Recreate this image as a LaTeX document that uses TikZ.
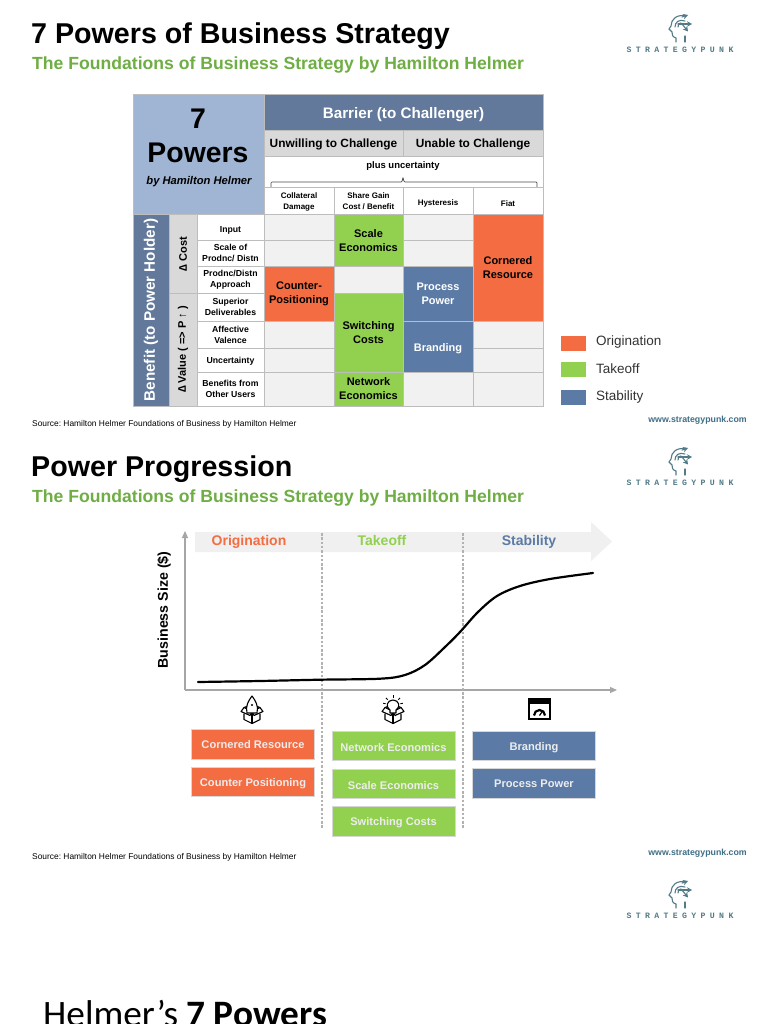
\documentclass[tikz,border=0pt]{standalone}
\usepackage{fontspec}
\setmainfont{Liberation Sans}
\newfontfamily\logofont[LetterSpace=53]{Liberation Mono}
\newfontfamily\carlitofont{Carlito}
\usetikzlibrary{arrows.meta}
\definecolor{orig}{HTML}{F46C42}
\definecolor{take}{HTML}{92D050}
\definecolor{stab}{HTML}{5B7BA6}
\definecolor{headblue}{HTML}{62799B}
\definecolor{paleblue}{HTML}{A0B4D3}
\definecolor{gridc}{HTML}{BDBDBD}
\definecolor{cellc}{HTML}{F1F1F1}
\definecolor{greyc}{HTML}{D9D9D9}
\definecolor{titlegreen}{HTML}{6FAE44}
\definecolor{logoc}{HTML}{527B87}
\definecolor{linkc}{HTML}{3F6E86}
\tikzset{
  nudge/.style={execute at begin node={\rule{0pt}{#1}}},
  cellbox/.style={draw=gridc,line width=1pt,inner sep=0pt,outer sep=0pt,anchor=center,align=center,font=\bfseries\fontsize{8.7}{11}\selectfont},
  headcell/.style={font=\bfseries\fontsize{8}{11}\selectfont,nudge=8pt},
  bigcell/.style={font=\bfseries\fontsize{11}{14}\selectfont,nudge=10.5pt},
  titletext/.style={anchor=west,inner sep=0pt,font=\bfseries\fontsize{28.65}{30}\selectfont},
  subtitletext/.style={anchor=west,inner sep=0pt,text=titlegreen,font=\bfseries\fontsize{17.6}{20}\selectfont},
  sourcetext/.style={anchor=west,inner sep=0pt,font=\fontsize{8.4}{10}\selectfont},
  webtext/.style={anchor=east,inner sep=0pt,text=linkc,font=\bfseries\fontsize{8.8}{10}\selectfont},
  legendbox/.style={minimum width=25pt,minimum height=15pt,inner sep=0pt,anchor=center},
  legendtext/.style={anchor=west,inner sep=0pt,text=black!80,font=\fontsize{13.5}{16}\selectfont},
  powerbox/.style={draw=gridc!60,line width=0.7pt,minimum width=123pt,minimum height=29.5pt,inner sep=0pt,text=white!93!black,font=\bfseries\fontsize{11.1}{12}\selectfont},
  stagetext/.style={anchor=base,inner sep=0pt,font=\bfseries\fontsize{14}{16}\selectfont},
  dashline/.style={draw=black!30,line width=1.2pt,dash pattern=on 2.5pt off 1.8pt},
  axisline/.style={draw=black!35,line width=1.2pt,-{Triangle[length=7pt,width=6pt]}},
  iconline/.style={draw=black,line width=1.1pt,line join=round},
}
% cell macro: [options], name, x1,y1,x2,y2, fill, text
\newcommand{\cell}[8][]{\node[cellbox,#1,fill=#7,minimum width=#5pt-#3pt,minimum height=#6pt-#4pt] (#2) at ({(#3+#5)/2},{(#4+#6)/2}) {#8};}
\newcommand{\logo}[3]{% name, x centre, y top of head
 \begin{scope}[shift={(#2,#3)},draw=logoc,line width=1.1pt,line cap=round]
   \draw (-4,27) -- (-4,23) .. controls (-8,22) and (-8,19) .. (-8,17) -- (-11,14) -- (-9,11) .. controls (-9,4) and (-3,-1) .. (6,1);
   \draw (-5,12) .. controls (-5,7) and (-1,4) .. (5,6);
   \draw (-2,12) .. controls (-2,9) and (-1,8) .. (1,8);
   \draw (5,21) -- (5,27);
   \draw[-{Stealth[length=5pt,width=5.5pt]}] (2,2) -- (8,0);
   \draw[-{Stealth[length=5pt,width=5.5pt]}] (-2,9) -- (12,9);
   \draw[-{Stealth[length=5pt,width=5.5pt]}] (2,9) -- (8,16.5);
   \node[inner sep=0pt,text=logoc,font=\logofont\bfseries\fontsize{8.2}{10}\selectfont] (#1) at (0,35) {STRATEGYPUNK};
 \end{scope}}
\newcommand{\boxicon}[2]{% open box, centre x, top y
 \begin{scope}[shift={(#1,#2)},iconline]
   \draw (-8,4) -- (0,1) -- (8,4) -- (0,8) -- cycle;
   \draw (-8,4) -- (-11,8) -- (-2,12) -- (0,8) -- (2,12) -- (11,8) -- (8,4);
   \draw (-8,10) -- (-8,16) -- (0,20) -- (8,16) -- (8,10);
   \draw (0,8) -- (0,20);
 \end{scope}}
\begin{document}
\frenchspacing
\begin{tikzpicture}[x=1pt,y=-1pt]
\useasboundingbox (0,0) rectangle (768,1024);
\fill[white] (0,0) rectangle (768,1024);
% ---- slide 1 ----
\node[titletext] (t1) at (31,36) {7 Powers of Business Strategy};
\node[subtitletext] (s1) at (32,65) {The Foundations of Business Strategy by Hamilton Helmer};
\logo{logo1}{680}{15}
% table
\cell{corner}{133}{95}{264}{215}{paleblue}{}
\node[inner sep=0pt,font=\bfseries\fontsize{28.4}{30}\selectfont] (seven) at (198,119) {7};
\node[inner sep=0pt,font=\bfseries\fontsize{28.4}{30}\selectfont] (powers) at (198,153) {Powers};
\node[inner sep=0pt,font=\bfseries\itshape\fontsize{11.2}{13}\selectfont] (byhh) at (199,181.5) {by Hamilton Helmer};
\cell[nudge=14pt]{barrier}{264}{95}{543}{131}{headblue}{\color{white}\fontsize{15.2}{17}\selectfont Barrier (to Challenger)}
\cell{unw}{264}{131}{403}{157}{greyc}{\fontsize{11.9}{14}\selectfont Unwilling to Challenge}
\cell{una}{403}{131}{543}{157}{greyc}{\fontsize{11.9}{14}\selectfont Unable to Challenge}
\cell{plus}{264}{157}{543}{188}{white}{}
\node[inner sep=0pt,font=\bfseries\fontsize{9.5}{11}\selectfont] (plustext) at (403,166.5) {plus uncertainty};
\draw[black!70,line width=0.7pt,rounded corners=1pt] (271,187.5) -- (271,182) -- (402,182) -- (403,177) -- (404,182) -- (537,182) -- (537,187.5);
\cell[headcell]{h1}{264}{188}{334}{215}{white}{Collateral\\Damage}
\cell[headcell]{h2}{334}{188}{403}{215}{white}{Share Gain\\Cost / Benefit}
\cell[headcell,nudge=10pt]{h3}{403}{188}{473}{215}{white}{Hysteresis}
\cell[headcell,nudge=10pt]{h4}{473}{188}{543}{215}{white}{Fiat}
% side
\cell{ben}{133}{215}{169}{406}{headblue}{}
\node[rotate=90,inner sep=0pt,text=white,font=\bfseries\fontsize{15.2}{17}\selectfont] (bentext) at (151,310) {Benefit (to Power Holder)};
\cell{cost}{169}{215}{197}{293}{greyc}{}
\node[rotate=90,inner sep=0pt,font=\bfseries\fontsize{11}{13}\selectfont] (costtext) at (183,254) {∆ Cost};
\cell{val}{169}{293}{197}{406}{greyc}{}
\node[rotate=90,inner sep=0pt,font=\bfseries\fontsize{11}{13}\selectfont] (valtext) at (183,349.5) {∆ Value ( => P ↑ )};
% row labels
\cell[nudge=11pt]{r1}{197}{215}{264}{240}{white}{Input}
\cell{r2}{197}{240}{264}{266}{white}{Scale of\\Prodnc/ Distn}
\cell[nudge=8pt]{r3}{197}{266}{264}{293}{white}{Prodnc/Distn\\Approach}
\cell{r4}{197}{293}{264}{321}{white}{Superior\\Deliverables}
\cell{r5}{197}{321}{264}{348}{white}{Affective\\Valence}
\cell[nudge=9pt]{r6}{197}{348}{264}{372}{white}{Uncertainty}
\cell{r7}{197}{372}{264}{406}{white}{Benefits from\\Other Users}
% column 1
\cell{c11}{264}{215}{334}{240}{cellc}{}
\cell{c12}{264}{240}{334}{266}{cellc}{}
\cell{c15}{264}{321}{334}{348}{cellc}{}
\cell{c16}{264}{348}{334}{372}{cellc}{}
\cell{c17}{264}{372}{334}{406}{cellc}{}
% column 2
\cell{c23}{334}{266}{403}{293}{cellc}{}
% column 3
\cell{c31}{403}{215}{473}{240}{cellc}{}
\cell{c32}{403}{240}{473}{266}{cellc}{}
\cell{c36}{403}{372}{473}{406}{cellc}{}
% column 4
\cell{c45}{473}{321}{543}{348}{cellc}{}
\cell{c46}{473}{348}{543}{372}{cellc}{}
\cell{c47}{473}{372}{543}{406}{cellc}{}
% colored
\cell[bigcell]{scale}{334}{215}{403}{266}{take}{Scale\\Economics}
\cell[bigcell]{switch}{334}{293}{403}{372}{take}{Switching\\Costs}
\cell[bigcell]{net}{334}{372}{403}{406}{take}{Network\\Economics}
\cell[bigcell,nudge=12pt]{counter}{264}{266}{334}{321}{orig}{Counter-\\Positioning}
\cell[bigcell]{corn}{473}{215}{543}{321}{orig}{Cornered\\Resource}
\cell[bigcell,text=white,nudge=8pt]{proc}{403}{266}{473}{321}{stab}{Process\\Power}
\cell[bigcell,text=white,nudge=12pt]{brand}{403}{321}{473}{372}{stab}{Branding}
% legend
\node[legendbox,fill=orig] (l1) at (573.5,343.5) {};
\node[legendbox,fill=take] (l2) at (573.5,369.5) {};
\node[legendbox,fill=stab] (l3) at (573.5,397.5) {};
\node[legendtext] (lt1) at (596,342) {Origination};
\node[legendtext] (lt2) at (596,369) {Takeoff};
\node[legendtext] (lt3) at (596,397) {Stability};
\node[sourcetext] (src1) at (32,424) {Source: Hamilton Helmer Foundations of Business by Hamilton Helmer};
\node[webtext] (web1) at (747,420) {www.strategypunk.com};
% ---- slide 2 ----
\node[titletext] (t2) at (31,469) {Power Progression};
\node[subtitletext] (s2) at (32,498) {The Foundations of Business Strategy by Hamilton Helmer};
\logo{logo2}{680}{448}
% banner
\fill[black!6] (195,532) -- (591,532) -- (591,522) -- (612,541.5) -- (591,561) -- (591,552) -- (195,552) -- cycle;
\node[stagetext,text=orig] (st1) at (249,545) {Origination};
\node[stagetext,text=take] (st2) at (382,545) {Takeoff};
\node[stagetext,text=stab] (st3) at (529,545) {Stability};
% axes
\coordinate (origin) at (185,690);
\coordinate (ytop) at (185,531);
\coordinate (xend) at (617,690);
\draw[axisline] (origin) -- (ytop);
\draw[axisline] (origin) -- (xend);
\node[rotate=90,inner sep=0pt,font=\bfseries\fontsize{14.2}{16}\selectfont] (ylab) at (164,610) {Business Size (\$)};
\coordinate (d1a) at (322,533); \coordinate (d1b) at (322,828);
\coordinate (d2a) at (463,533); \coordinate (d2b) at (463,828);
\draw[dashline] (d1a) -- (d1b);
\draw[dashline] (d2a) -- (d2b);
% curve
\draw[black,line width=2.2pt,line cap=round] plot[smooth,tension=0.55] coordinates {(198,682) (260,681) (320,679.7) (380,678.7) (405,675) (425,665) (445,647) (460,632) (478,612) (497,596) (520,586) (550,579) (593,573)};
% icons
\boxicon{252}{703.5}
\draw[iconline,fill=white] (247,713) .. controls (245,706) and (249,700) .. (252,696) .. controls (255,700) and (259,706) .. (257,713) -- cycle;
\fill (252,705) circle (1.2pt);
\boxicon{393}{703.5}
\draw[iconline,fill=white] (390,713) -- (390,710) .. controls (385,707) and (387,700) .. (393,700) .. controls (399,700) and (401,707) .. (396,710) -- (396,713) -- cycle;
\foreach \a in {-170,-135,-90,-45,-10}{\draw[line width=0.9pt] (393,705) ++(\a:7.5) -- ++(\a:2.5);}
\draw[black,line width=2pt] (529,699) rectangle (550,719);
\fill (529,699) rectangle (550,704);
\draw[line width=2.2pt] (534,715.5) arc[start angle=180,end angle=360,radius=5.5];
\draw[line width=1.2pt] (539.5,715.5) -- (543,710.5);
% boxes
\node[powerbox,fill=orig] (bo1) at (253,744.5) {Cornered Resource};
\node[powerbox,fill=orig,nudge=11pt] (bo2) at (253,782) {Counter Positioning};
\node[powerbox,fill=take,nudge=11pt] (bg1) at (393.5,746) {Network Economics};
\node[powerbox,fill=take,nudge=11pt] (bg2) at (393.5,784) {Scale Economics};
\node[powerbox,fill=take,nudge=11pt] (bg3) at (393.5,821.5) {Switching Costs};
\node[powerbox,fill=stab,nudge=11pt] (bb1) at (534,746) {Branding};
\node[powerbox,fill=stab] (bb2) at (534,783.5) {Process Power};
\node[sourcetext] (src2) at (32,857) {Source: Hamilton Helmer Foundations of Business by Hamilton Helmer};
\node[webtext] (web2) at (747,853) {www.strategypunk.com};
% ---- slide 3 ----
\logo{logo3}{680}{881}
\node[anchor=base west,inner sep=0pt,font=\carlitofont\fontsize{37.3}{40}\selectfont] (t3) at (43,1026) {Helmer’s \textbf{7 Powers}};
\end{tikzpicture}
\end{document}
